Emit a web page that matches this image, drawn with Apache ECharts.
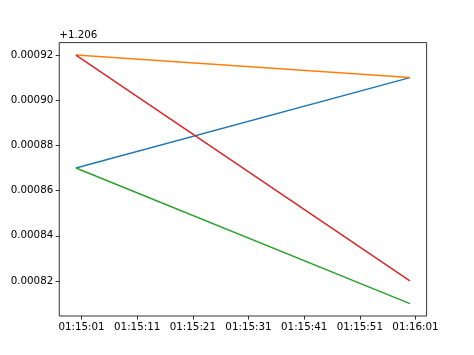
<!DOCTYPE html>
<html><head><meta charset="utf-8">
<script src="https://cdn.jsdelivr.net/npm/echarts@6/dist/echarts.min.js"></script>
<style>html,body{margin:0;padding:0;background:#fff}#c{width:474px;height:355px}</style>
</head><body><div id="c"></div>
<script>
// x in seconds since midnight
const times = [4500, 4560]; // 01:15:00, 01:16:00
const offset = 1.206;
const blue = [1.20687, 1.20691];
const orange = [1.20692, 1.20691];
const green = [1.20687, 1.20681];
const red = [1.20692, 1.20682];
const xTicks = [4501, 4511, 4521, 4531, 4541, 4551, 4561];
const yTicks = [0.00082, 0.00084, 0.00086, 0.00088, 0.00090, 0.00092];
const colors = ['#1f77b4', '#ff7f0e', '#2ca02c', '#d62728'];
const seriesData = [blue, orange, green, red];

function fmtTime(s){
  const h = Math.floor(s/3600), m = Math.floor((s%3600)/60), sec = Math.round(s%60);
  const p = n => String(n).padStart(2,'0');
  return p(h)+':'+p(m)+':'+p(sec);
}
const font = {fontFamily:'DejaVu Sans', fontSize:10.3, color:'#000'};
const chart = echarts.init(document.getElementById('c'), null, {renderer:'canvas'});
chart.setOption({
  animation:false,
  backgroundColor:'#fff',
  grid:{left:59.25, right:47.4, top:42.6, bottom:39, show:true, borderColor:'#000', borderWidth:0.8, backgroundColor:'#fff'},
  xAxis:{type:'value', min:4497, max:4563, splitLine:{show:false},
    axisLine:{show:false},
    axisTick:{show:true, length:3.6, lineStyle:{color:'#000', width:0.8}, customValues:xTicks},
    axisLabel:{...font, margin:6, customValues:xTicks, formatter:v=>fmtTime(v)}},
  yAxis:{type:'value', min:offset+0.0008045, max:offset+0.0009255, splitLine:{show:false},
    axisLine:{show:false},
    axisTick:{show:true, length:3.6, lineStyle:{color:'#000', width:0.8}, customValues:yTicks.map(v=>offset+v)},
    axisLabel:{...font, margin:6, customValues:yTicks.map(v=>offset+v), formatter:v=>(v-offset).toFixed(5)}},
  graphic:[{type:'text', left:59.25, top:30, style:{text:'+1.206', font:'10.3px "DejaVu Sans"', fill:'#000'}}],
  series: seriesData.map((d,i)=>({type:'line', data:d.map((v,j)=>[times[j], v]), symbol:'none',
    lineStyle:{color:colors[i], width:1.5}, itemStyle:{color:colors[i]}}))
});
</script></body></html>
